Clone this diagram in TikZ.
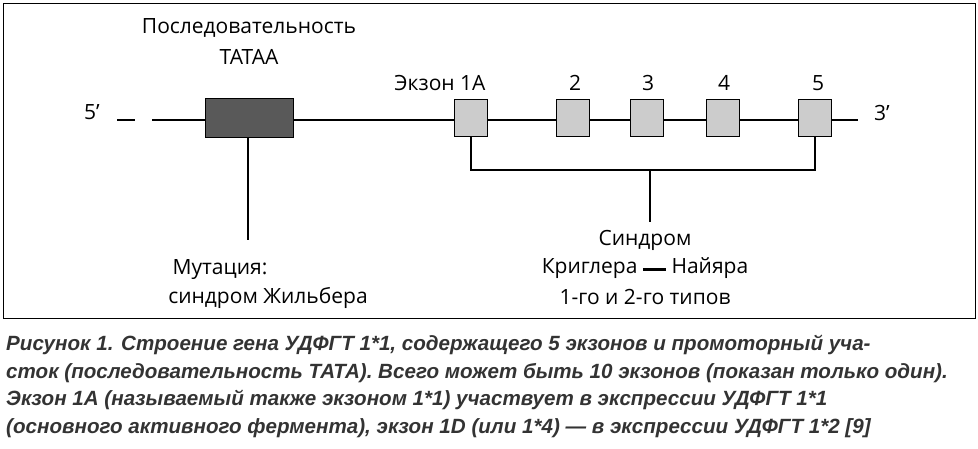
\documentclass[tikz,border=0pt]{standalone}
\usepackage{fontspec}
\setmainfont{Open Sans}
\newfontfamily\capfont{Liberation Sans}
\begin{document}
\begin{tikzpicture}[x=1pt,y=-1pt,
  lbl/.style={font=\fontsize{21}{24}\selectfont,inner sep=0pt},
  captext/.style={font=\capfont\bfseries\itshape\fontsize{20.6}{23}\selectfont,anchor=west,inner sep=0pt,text=black!80},
  exon/.style={draw=black,fill=black!20,line width=1pt},
  ln/.style={line width=1.4pt}]
\useasboundingbox (0,0) rectangle (978,448);
\draw[line width=1pt] (3,3) rectangle (975,318);
% chromosome line
\coordinate (d1) at (117,120); \coordinate (d2) at (135,120);
\coordinate (l1) at (152,120); \coordinate (l2) at (858,120);
\draw[ln] (d1) -- (d2);
\draw[ln] (l1) -- (l2);
\node[lbl] (five) at (92,112) {5'};
\node[lbl] (three) at (882,113) {3'};
\node[draw=black,fill=black!65,line width=1pt,minimum width=88pt,minimum height=39pt,inner sep=0pt] (tata) at (249,118) {};
\node[exon,minimum width=33pt,minimum height=37pt,inner sep=0pt] (e1) at (471,118) {};
\node[exon,minimum width=33pt,minimum height=37pt,inner sep=0pt] (e2) at (573,118) {};
\node[exon,minimum width=33pt,minimum height=37pt,inner sep=0pt] (e3) at (647,118) {};
\node[exon,minimum width=33pt,minimum height=37pt,inner sep=0pt] (e4) at (723,118) {};
\node[exon,minimum width=33pt,minimum height=37pt,inner sep=0pt] (e5) at (815,118) {};
\node[lbl] (t1) at (440,83) {Экзон 1А};
\node[lbl] (t2) at (575,83) {2};
\node[lbl] (t3) at (648,83) {3};
\node[lbl] (t4) at (724,83) {4};
\node[lbl] (t5) at (818,83) {5};
\node[lbl] (p1) at (249,28) {Последовательность};
\node[lbl] (p2) at (249,57) {ТАТАА};
\coordinate (m) at (248,240);
\draw[ln] (tata.south -| m) -- (m);
\node[lbl] (mu1) at (220,270) {Мутация:};
\node[lbl] (mu2) at (268,298) {синдром Жильбера};
\coordinate (b1) at (471,170); \coordinate (b5) at (815,170);
\coordinate (bm) at (650,170); \coordinate (bs) at (650,222);
\draw[ln] (e1.south) -- (b1) -- (b5) -- (e5.south);
\draw[ln] (bm) -- (bs);
\node[lbl] (s1) at (645,240) {Синдром};
\node[lbl] (s2) at (645,268) {Криглера \rule[0.25ex]{1.1em}{2.2pt} Найяра};
\node[lbl] (s3) at (645,297) {1-го и 2-го типов};
\node[captext] (c1) at (6,345) {Рисунок 1. Строение гена УДФГТ 1*1, содержащего 5 экзонов и промоторный уча-};
\node[captext] (c2) at (6,373) {сток (последовательность ТАТА). Всего может быть 10 экзонов (показан только один).};
\node[captext] (c3) at (6,400) {Экзон 1А (называемый также экзоном 1*1) участвует в экспрессии УДФГТ 1*1};
\node[captext] (c4) at (6,428) {(основного активного фермента), экзон 1D (или 1*4) — в экспрессии УДФГТ 1*2 [9]};
\end{tikzpicture}
\end{document}
